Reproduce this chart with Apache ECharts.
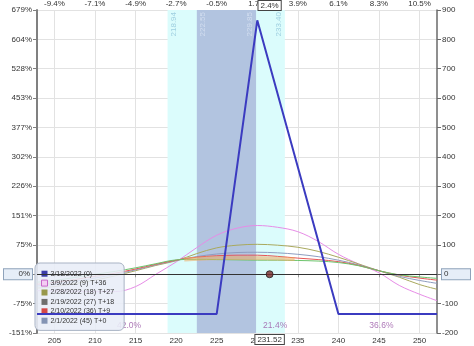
<!DOCTYPE html>
<html><head><meta charset="utf-8">
<script src="https://cdn.jsdelivr.net/npm/echarts@6/dist/echarts.min.js"></script>
<style>html,body{margin:0;padding:0;background:#fff}#c{width:474px;height:346px}</style>
</head><body><div id="c"></div>
<script>
// ---- data ----
const xMin = 202.85, xMax = 252.15;
const xTicks = [205,210,215,220,225,230,235,240,245,250];
const topPctLabels = ['-9.4%','-7.1%','-4.9%','-2.7%','-0.5%','1.7%','3.9%','6.1%','8.3%','10.5%'];
const yTicks = [-200,-100,0,100,200,300,400,500,600,700,800,900];
const yPctLabels = ['-151%','-75%','0%','75%','151%','226%','302%','377%','453%','528%','604%','679%'];

const prices = [202.85,205,207.5,210,212.5,215,217.5,220,222.5,225,227.5,230,232.5,235,237.5,240,242.5,245,247.5,250,252.15];
const pnlT36 = [-56,-57,-58,-59,-59,-42,0,42,90,133,157,166,160,145,112,68,35,5,-38,-68,-90];
const pnlT27 = [-47,-42,-32,-20,-5,12,30,46,70,90,99,102,99,92,78,58,35,12,-10,-35,-51];
const pnlT18 = [-40,-34,-24,-13,0,15,32,47,60,69,74,75,73,68,60,48,32,12,-7,-21,-31];
const pnlT9  = [-34,-28,-18,-7,4,18,34,48,58,63,65,65,61,55,50,43,30,12,-3,-13,-20];
const pnlT0  = [-27,-21,-11,0,10,22,36,49,51,50,49,48,48,47,45,40,29,12,-2,-9,-14];

const expiryX = [202.85,225,230,240,252.15];
const expiryPnl = [-135,-135,865,-135,-135];

const bandX = [221,223,226,229,232,234.6];
const bandPnl = [50,53,55,55,54,52];

const outerRange = [218.94, 233.40];
const innerRange = [222.55, 229.85];
const currentPrice = 231.52;
const currentPct = '2.4%';

const probX = [214.2, 232.2, 245.3];
const probY = -174;
const probLabels = ['42.0%','21.4%','36.6%'];

const seriesNames = ['3/18/2022 (0)','3/9/2022 (9) T+36','2/28/2022 (18) T+27','2/19/2022 (27) T+18','2/10/2022 (36) T+9','2/1/2022 (45) T+0'];

// ---- chart ----
const FF = "'Liberation Sans', Arial, sans-serif";
const zip = (xs, ys) => xs.map((x,i)=>[x, ys[i]]);
const chart = echarts.init(document.getElementById('c'), null, {renderer:'canvas'});
const CLEAR = 'rgba(0,0,0,0)';

const curve = (name, ys, color) => ({
  name, type:'line', data: zip(prices, ys), smooth:0.35, showSymbol:false,
  lineStyle:{color, width:1}, itemStyle:{color}, z:2
});
const bandLabel = (v, pos, color) => ({
  xAxis:v, lineStyle:{color:CLEAR, width:0},
  label:{show:true, position:pos, formatter:v.toFixed(2), color, fontSize:8, distance:2, fontFamily:FF}
});

const option = {
  animation:false,
  backgroundColor:'#fff',
  textStyle:{fontFamily:FF},
  grid:{left:32, right:30, top:10, bottom:13, containLabel:false},
  xAxis:[{
    type:'value', min:xMin, max:xMax,
    axisLine:{show:false},
    axisTick:{show:true, length:3, customValues:xTicks, lineStyle:{color:'#999'}},
    axisLabel:{customValues:xTicks, fontSize:8, color:'#333', margin:4, fontFamily:FF},
    splitLine:{show:true, lineStyle:{color:'#e2e2e2', width:1}}
  },{
    type:'value', min:xMin, max:xMax, position:'top',
    axisLine:{show:false}, axisTick:{show:false, customValues:xTicks},
    axisLabel:{customValues:xTicks, fontSize:8, color:'#333', margin:2, fontFamily:FF,
      formatter:v=>{const i=xTicks.indexOf(Math.round(v)); return i>=0?topPctLabels[i]:'';}},
    splitLine:{show:false}
  }],
  yAxis:[{
    type:'value', min:-200, max:900, interval:100, position:'left',
    axisLine:{show:true, lineStyle:{color:'#808080', width:2}},
    axisTick:{show:true, length:4, lineStyle:{color:'#808080'}},
    axisLabel:{fontSize:8, color:'#333', margin:5, fontFamily:FF,
      formatter:v=>{const i=yTicks.indexOf(v); const s=i>=0?yPctLabels[i]:''; return v===0?'{z|'+s+'}':s;},
      rich:{z:{backgroundColor:'#e6eef8', borderColor:'#8fa3bb', borderWidth:1, width:24, align:'right', padding:[1,2,1,2], fontSize:8, color:'#333'}}},
    splitLine:{show:true, lineStyle:{color:'#e2e2e2'}}
  },{
    type:'value', min:-200, max:900, interval:100, position:'right',
    axisLine:{show:true, lineStyle:{color:'#6a6a6a', width:1.5}},
    axisTick:{show:true, length:4, lineStyle:{color:'#6a6a6a'}},
    axisLabel:{fontSize:8, color:'#333', margin:5, fontFamily:FF,
      formatter:v=> v===0?'{z|0}':String(v),
      rich:{z:{backgroundColor:'#e6eef8', borderColor:'#8fa3bb', borderWidth:1, width:24, align:'left', padding:[1,2,1,2], fontSize:8, color:'#333'}}},
    splitLine:{show:false}
  }],
  legend:{
    orient:'vertical', left:35, top:263,
    padding:[6,10,5,6], itemGap:0, itemWidth:6, itemHeight:6, icon:'rect',
    backgroundColor:'rgba(232,237,247,0.88)', borderColor:'#a9b3c4', borderWidth:1, borderRadius:5,
    textStyle:{fontSize:7, color:'#333', fontFamily:FF, lineHeight:9.4, padding:[0,0,0,-2]},
    data:[
      {name:seriesNames[0], itemStyle:{color:'#3b3ba8'}},
      {name:seriesNames[1], itemStyle:{color:'#f4ccf4', borderColor:'#c866c8', borderWidth:1}},
      {name:seriesNames[2], itemStyle:{color:'#98984c'}},
      {name:seriesNames[3], itemStyle:{color:'#6e6e6e'}},
      {name:seriesNames[4], itemStyle:{color:'#d44848'}},
      {name:seriesNames[5], itemStyle:{color:'#8494b4'}}
    ]
  },
  series:[
    {
      name:'bands', type:'line', data:[[xMin,-1000]], showSymbol:false, lineStyle:{width:0}, z:-1, silent:true,
      markArea:{silent:true, data:[
        [{xAxis:outerRange[0], itemStyle:{color:'#dbfcfc'}},{xAxis:outerRange[1]}],
        [{xAxis:innerRange[0], itemStyle:{color:'#b2c4e0'}},{xAxis:innerRange[1]}]
      ]},
      markLine:{silent:true, symbol:'none', data:[
        bandLabel(outerRange[0], 'insideEndBottom', '#9fcfe0'),
        bandLabel(innerRange[0], 'insideEndBottom', '#d3def0'),
        bandLabel(innerRange[1], 'insideEndTop', '#d3def0'),
        bandLabel(outerRange[1], 'insideEndTop', '#9fcfe0')
      ]}
    },
    curve(seriesNames[1], pnlT36, '#e78ce7'),
    curve(seriesNames[2], pnlT27, '#a9a95e'),
    curve(seriesNames[3], pnlT18, '#8e9dc0'),
    curve(seriesNames[4], pnlT9, '#e65555'),
    curve(seriesNames[5], pnlT0, '#6cc46c'),
    {
      name:'band', type:'line', data: zip(bandX, bandPnl), smooth:0.4, showSymbol:false,
      lineStyle:{color:'rgba(238,170,95,0.55)', width:4}, z:2
    },
    {
      name:seriesNames[0], type:'line', data: zip(expiryX, expiryPnl), showSymbol:false,
      lineStyle:{color:'#3b3bc0', width:2}, itemStyle:{color:'#3b3ba8'}, z:4,
      markLine:{silent:true, symbol:'none', data:[
        {yAxis:0, lineStyle:{color:'#333', width:1, type:'solid'}, label:{show:false}},
        {xAxis:currentPrice, lineStyle:{color:CLEAR, width:0}, label:{show:true, position:'start', distance:2, formatter:String(currentPrice),
          backgroundColor:'#fff', borderColor:'#444', borderWidth:1, padding:[1,2,0,2], fontSize:8, color:'#333', fontFamily:FF}},
        {xAxis:currentPrice, lineStyle:{color:CLEAR, width:0}, label:{show:true, position:'end', distance:0, formatter:currentPct,
          backgroundColor:'#fff', borderColor:'#444', borderWidth:1, padding:[1,2,0,2], fontSize:8, color:'#333', fontFamily:FF}}
      ]}
    },
    {
      name:'price', type:'scatter', data:[[currentPrice,0]], symbolSize:7, z:5,
      itemStyle:{color:'#7a2a2a', borderColor:'#222', borderWidth:1}
    },
    {
      name:'prob', type:'scatter', symbolSize:0, z:1,
      data: probX.map((x,i)=>({value:[x, probY], name:probLabels[i]})),
      label:{show:true, position:'inside', formatter:p=>p.name, color:'#9a58a6', fontSize:8.5, fontFamily:FF}
    }
  ]
};
chart.setOption(option);
</script>
</body></html>
